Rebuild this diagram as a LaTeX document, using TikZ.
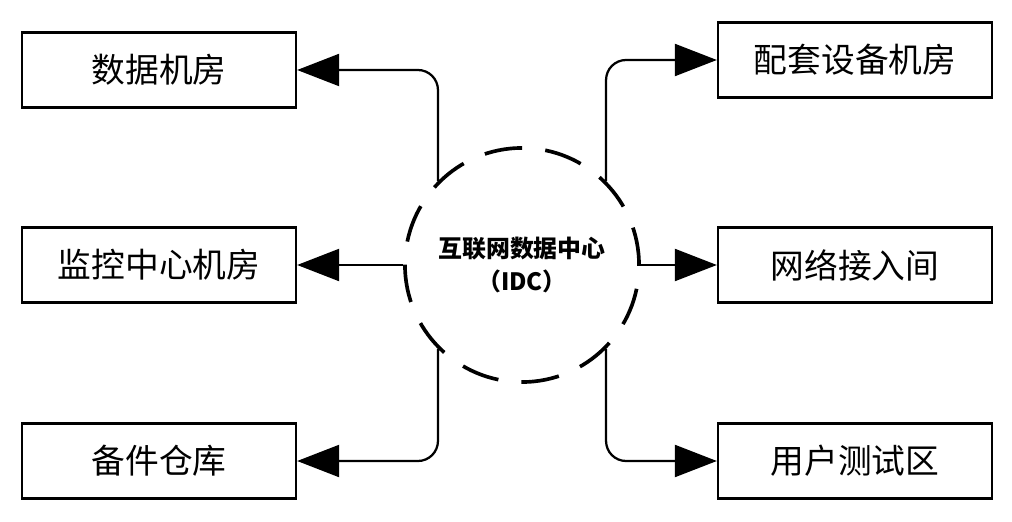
\documentclass[tikz,border=0pt]{standalone}
\usepackage{fontspec}
\newfontfamily\cjk{Noto Sans CJK SC}
\usetikzlibrary{arrows.meta}
\begin{document}
\begin{tikzpicture}[x=0.025cm,y=0.025cm,
  room/.style={draw, line width=1.6pt, minimum width=6.85cm, minimum height=1.875cm, font=\cjk\fontsize{24}{28}\selectfont},
  link/.style={line width=1.6pt, rounded corners=0.5cm, -{Triangle[length=1.05cm,width=0.8cm]}}]
\useasboundingbox (0,0) rectangle (1012,521);
\node[circle, draw, line width=2.6pt, minimum size=5.85cm, dash pattern=on 0.95cm off 0.58cm, align=center, font=\cjk\bfseries\fontsize{17}{24}\selectfont] (idc) at (522,256) {互联网数据中心\\（IDC）};
% left side
\node[room] (data) at (159,451) {数据机房};
\node[room] (monitor) at (159,256) {监控中心机房};
\node[room] (spare) at (159,60) {备件仓库};
% right side
\node[room] (support) at (855,461) {配套设备机房};
\node[room] (access) at (855,256) {网络接入间};
\node[room] (test) at (855,60) {用户测试区};
\draw[link] (idc.135) |- (data.east);
\draw[link, rounded corners=0pt] (idc.west) -- (monitor.east |- idc.west);
\draw[link] (idc.225) |- (spare.east);
\draw[link] (idc.45) |- (support.west);
\draw[link, rounded corners=0pt] (idc.east) -- (access.west |- idc.east);
\draw[link] (idc.-45) |- (test.west);
\end{tikzpicture}
\end{document}
